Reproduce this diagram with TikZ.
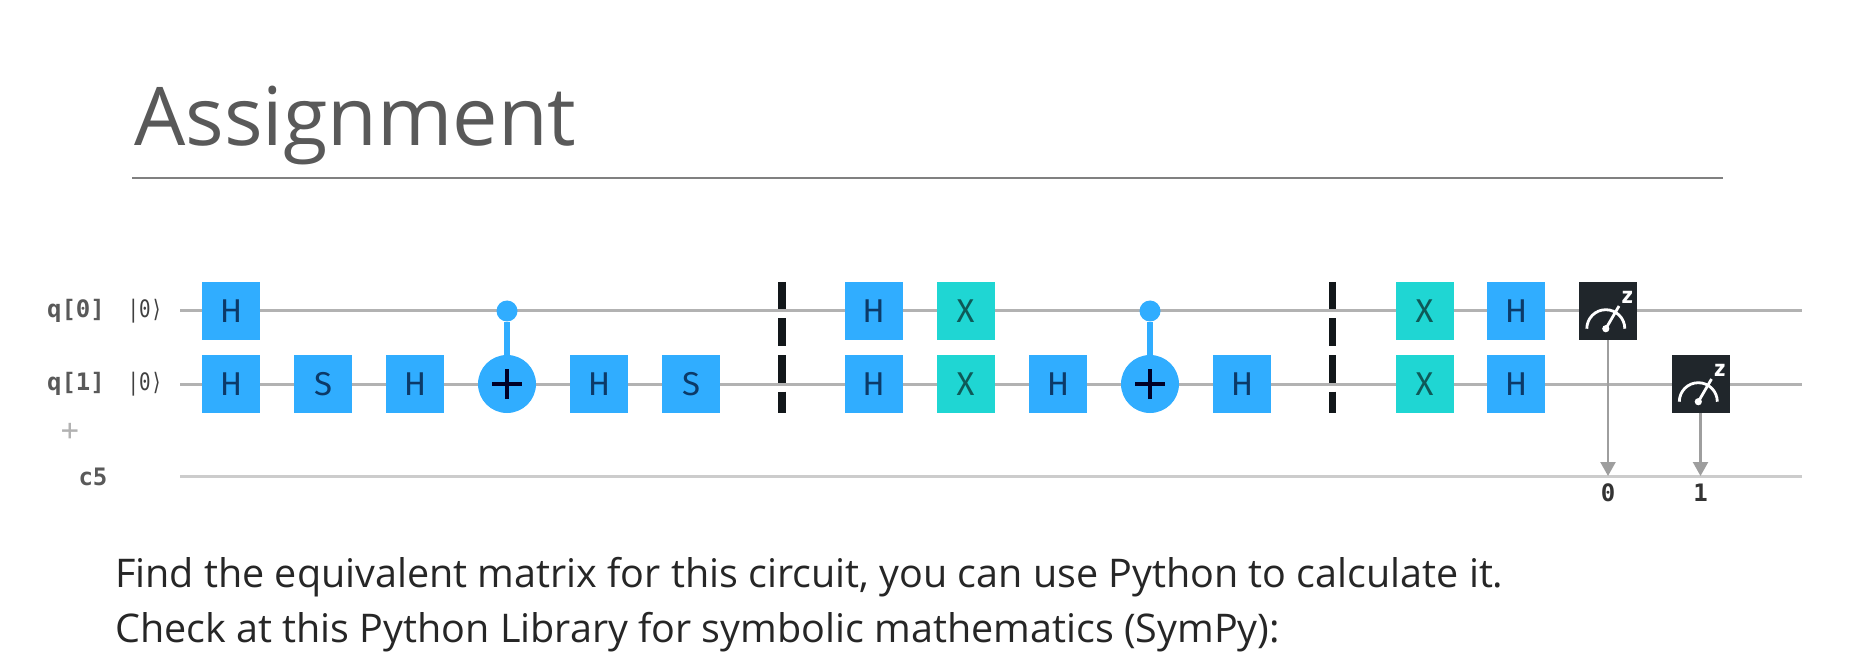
\documentclass[tikz,border=0pt]{standalone}
\usepackage{fontspec}
\setmainfont{Open Sans}
\newfontfamily\labelfont{DejaVu Sans Mono}
\newfontfamily\gatefont{Fira Sans}
\usetikzlibrary{arrows.meta}
\definecolor{gateblue}{HTML}{30ADFF}
\definecolor{gateteal}{HTML}{1FD6D3}
\definecolor{gatedark}{HTML}{20262B}
\definecolor{inkblue}{HTML}{0C3A68}
\definecolor{inkteal}{HTML}{0E5A58}
\definecolor{barblack}{HTML}{12171A}
\tikzstyle{wire}=[draw=black!30,line width=3pt]
\tikzstyle{cwire}=[draw=black!20,line width=3pt]
\tikzstyle{gate}=[rectangle,minimum size=58pt,inner sep=0pt,font=\gatefont\fontsize{33}{33}\selectfont]
\tikzstyle{hgate}=[gate,fill=gateblue,text=inkblue]
\tikzstyle{sgate}=[hgate]
\tikzstyle{xgate}=[gate,fill=gateteal,text=inkteal]
\tikzstyle{gauge}=[gate,fill=gatedark]
\tikzstyle{ctrl}=[circle,fill=gateblue,minimum size=21pt,inner sep=0pt]
\tikzstyle{target}=[circle,fill=gateblue,minimum size=58pt,inner sep=0pt]
\tikzstyle{stem}=[draw=gateblue,line width=6pt]
\tikzstyle{barrier}=[draw=barblack,line width=7.5pt]
\tikzstyle{measure}=[draw=black!38,line width=2.2pt,-{Triangle[width=15pt,length=14pt]}]
\tikzstyle{mono}=[inner sep=0pt,text=black!65,font=\labelfont\bfseries\fontsize{24}{24}\selectfont]
\tikzstyle{ket}=[inner sep=0pt,xscale=0.8,text=black!75,font=\labelfont\fontsize{24}{24}\selectfont]
\tikzstyle{body}=[anchor=base west,inner sep=0pt,text=black!85,font=\fontsize{39.5}{39.5}\selectfont]
\newcommand{\plusmark}[1]{\draw[black!85!blue,line width=3.2pt] ([xshift=-15pt]#1.center) -- ([xshift=15pt]#1.center) ([yshift=-15pt]#1.center) -- ([yshift=15pt]#1.center);}
\newcommand{\dial}[1]{
\begin{scope}[shift={(#1.center)}]
\draw[white,line width=2.8pt] (-21.2,17.7) arc[start angle=180,end angle=360,radius=19];
\draw[white,line width=2.8pt] (-2.2,17.7) -- (11,-5);
\fill[white] (-2.2,17.7) circle (3.6);
\node[inner sep=0pt,text=white,font=\gatefont\bfseries\fontsize{23}{23}\selectfont] (#1z) at (19.5,-14) {z};
\end{scope}}
\begin{document}
\begin{tikzpicture}[x=1pt,y=-1pt]
\useasboundingbox (0,0) rectangle (1874,660);
\fill[white] (0,0) rectangle (1874,660);
% heading
\node[anchor=base west,inner sep=0pt,text=black!65,font=\fontsize{81}{81}\selectfont] (title) at (134,146) {Assignment};
\coordinate (ruleL) at (132,178);
\coordinate (ruleR) at (1723,178);
\draw[black!50,line width=1.5pt] (ruleL) -- (ruleR);
% wires
\coordinate (q0L) at (180,311);
\coordinate (q0R) at (1802,311);
\coordinate (q1L) at (180,384);
\coordinate (q1R) at (1802,384);
\coordinate (c5L) at (180,476);
\coordinate (c5R) at (1802,476);
\draw[wire] (q0L) -- (q0R);
\draw[wire] (q1L) -- (q1R);
\draw[cwire] (c5L) -- (c5R);
% register labels
\node[mono] (q0name) at (76,311) {q[0]};
\node[mono] (q1name) at (76,384) {q[1]};
\node[mono] (c5name) at (93,477) {c5};
\node[ket] (q0ket) at (145,311) {|0⟩};
\node[ket] (q1ket) at (145,384) {|0⟩};
\node[inner sep=0pt,text=black!30,font=\labelfont\fontsize{30}{30}\selectfont] (addreg) at (70,432) {+};
% first block
\node[hgate] (a0) at (231,311) {H};
\node[hgate] (a1) at (231,384) {H};
\node[sgate] (b1) at (323,384) {S};
\node[hgate] (c1) at (415,384) {H};
\node[target] (t1) at (507,384) {};
\node[ctrl] (k1) at (507,311) {};
\draw[stem] (k1) -- (t1);
\plusmark{t1}
\node[hgate] (d1) at (599,384) {H};
\node[sgate] (e1) at (691,384) {S};
% barrier one
\coordinate (p0) at (782,282);
\coordinate (p1) at (782,309.5);
\coordinate (p2) at (782,318.5);
\coordinate (p3) at (782,346);
\coordinate (p4) at (782,355);
\coordinate (p5) at (782,382.5);
\coordinate (p6) at (782,391.5);
\coordinate (p7) at (782,413);
\draw[barrier] (p0) -- (p1) (p2) -- (p3) (p4) -- (p5) (p6) -- (p7);
% second block
\node[hgate] (f0) at (873.5,311) {H};
\node[hgate] (f1) at (873.5,384) {H};
\node[xgate] (g0) at (965.5,311) {X};
\node[xgate] (g1) at (965.5,384) {X};
\node[hgate] (h1) at (1058,384) {H};
\node[target] (t2) at (1150,384) {};
\node[ctrl] (k2) at (1150,311) {};
\draw[stem] (k2) -- (t2);
\plusmark{t2}
\node[hgate] (i1) at (1242,384) {H};
% barrier two
\coordinate (r0) at (1332.5,282);
\coordinate (r1) at (1332.5,309.5);
\coordinate (r2) at (1332.5,318.5);
\coordinate (r3) at (1332.5,346);
\coordinate (r4) at (1332.5,355);
\coordinate (r5) at (1332.5,382.5);
\coordinate (r6) at (1332.5,391.5);
\coordinate (r7) at (1332.5,413);
\draw[barrier] (r0) -- (r1) (r2) -- (r3) (r4) -- (r5) (r6) -- (r7);
% third block
\node[xgate] (j0) at (1424.5,311) {X};
\node[xgate] (j1) at (1424.5,384) {X};
\node[hgate] (l0) at (1516,311) {H};
\node[hgate] (l1) at (1516,384) {H};
% measurements
\node[gauge] (m0) at (1608,311) {};
\node[gauge] (m1) at (1700.5,384) {};
\coordinate (bit0) at (1608,476);
\coordinate (bit1) at (1700.5,476);
\draw[measure] (m0.south) -- (bit0);
\draw[measure] (m1.south) -- (bit1);
\dial{m0}
\dial{m1}
\node[mono,text=black!80] (bit0name) at (1608,493) {0};
\node[mono,text=black!80] (bit1name) at (1700.5,493) {1};
% text below
\node[body] (line1) at (115,587) {Find the equivalent matrix for this circuit, you can use Python to calculate it.};
\node[body] (line2) at (115,642) {Check at this Python Library for symbolic mathematics (SymPy):};
\end{tikzpicture}
\end{document}
